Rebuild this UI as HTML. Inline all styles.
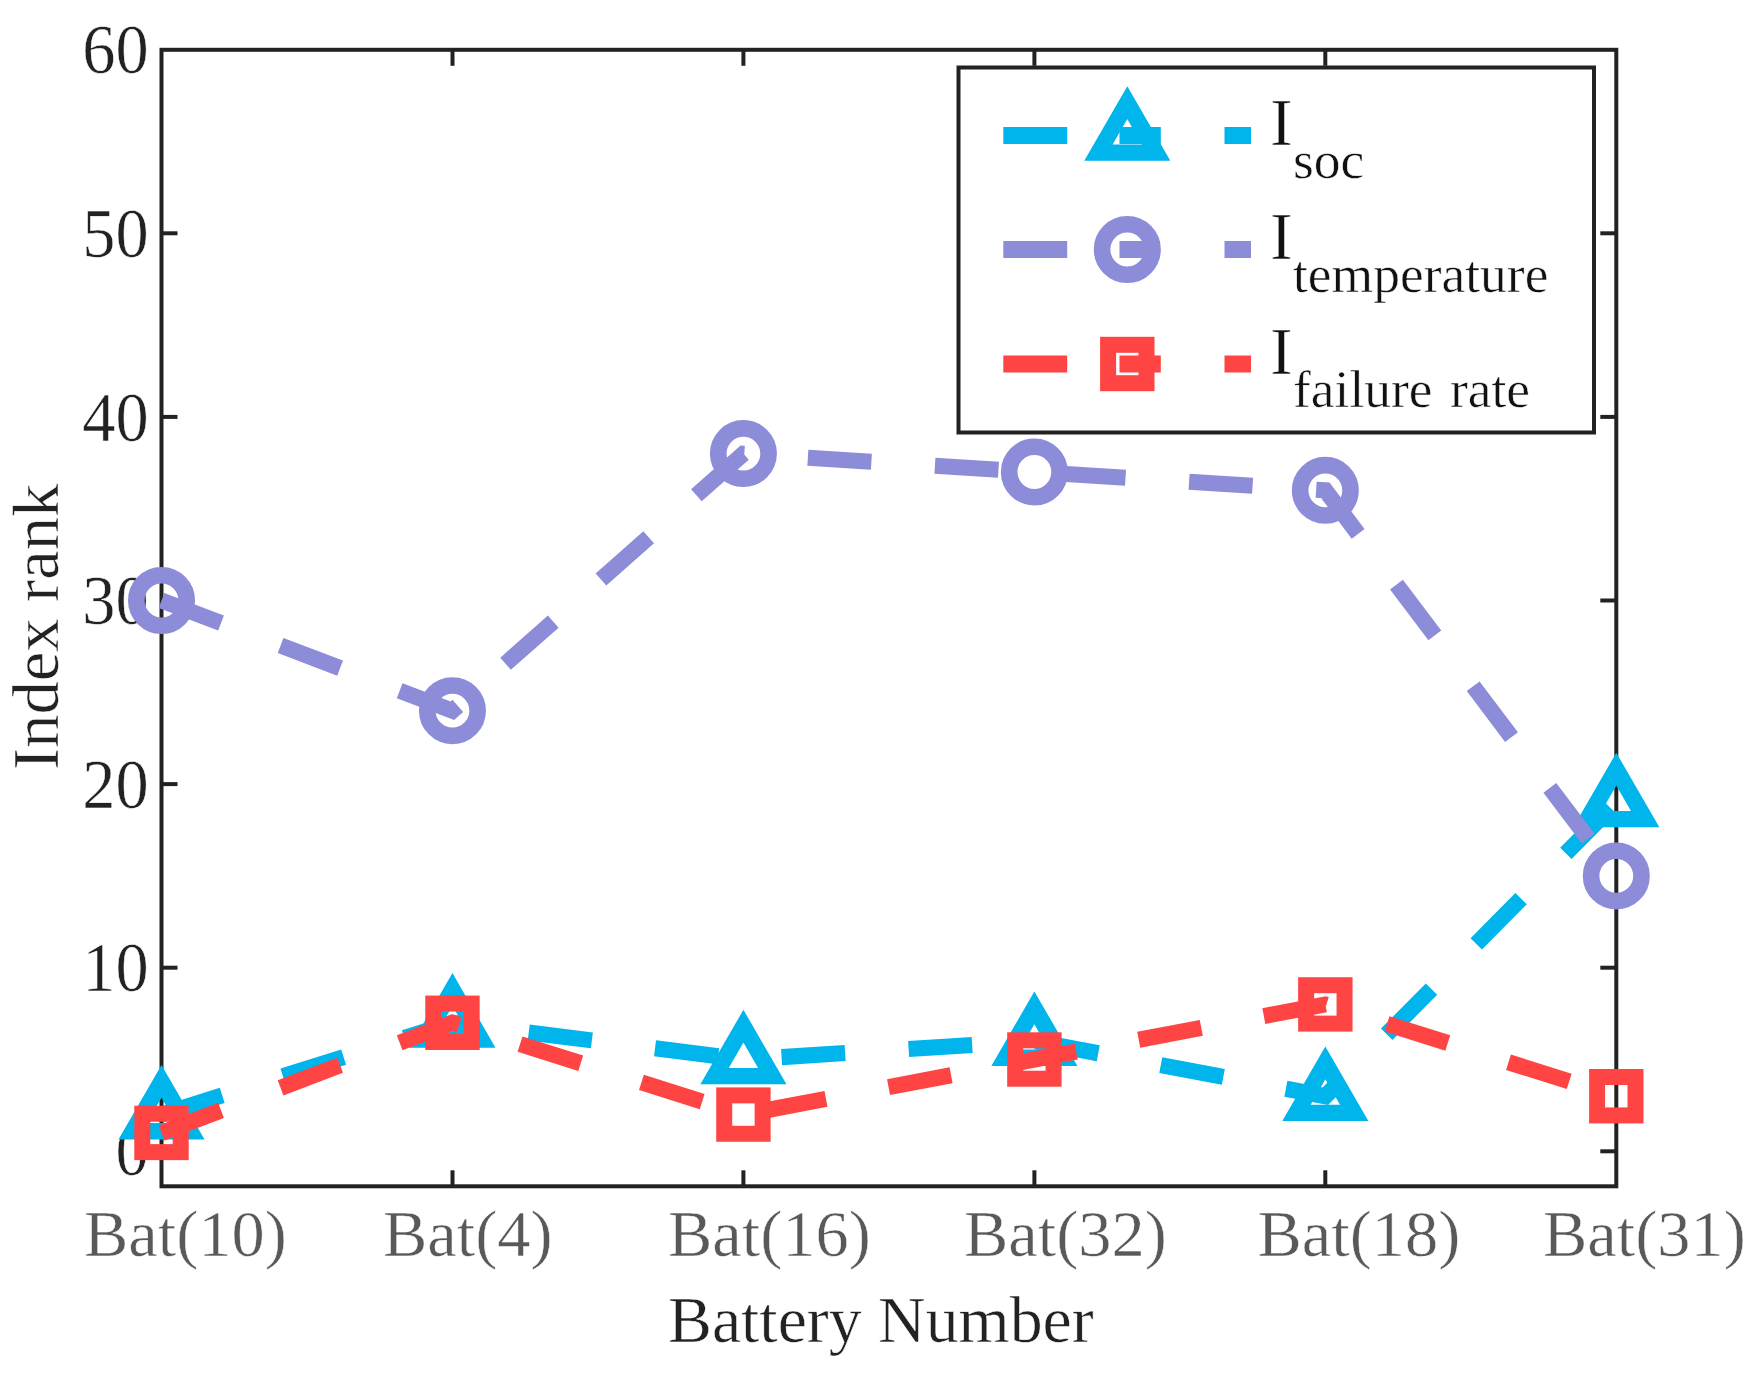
<!DOCTYPE html>
<html lang="en"><head><meta charset="utf-8"><title>Index rank by Battery Number</title>
<style>html,body{margin:0;padding:0;background:#fff}body{width:1763px;height:1374px;overflow:hidden}svg{display:block}text{font-family:"Liberation Serif","Times New Roman",serif;stroke:#fff;stroke-width:0.5px;stroke-linejoin:round}</style></head><body>
<svg width="1763" height="1374" viewBox="0 0 1763 1374">
<rect width="1763" height="1374" fill="#fff"/>
<g stroke="#222" stroke-width="4" fill="none" stroke-linecap="butt">
<rect x="161.5" y="49.8" width="1454.8" height="1136.5"/>
<line x1="452.5" y1="1186.3" x2="452.5" y2="1170.3"/>
<line x1="452.5" y1="49.8" x2="452.5" y2="65.8"/>
<line x1="743.4" y1="1186.3" x2="743.4" y2="1170.3"/>
<line x1="743.4" y1="49.8" x2="743.4" y2="65.8"/>
<line x1="1034.4" y1="1186.3" x2="1034.4" y2="1170.3"/>
<line x1="1034.4" y1="49.8" x2="1034.4" y2="65.8"/>
<line x1="1325.3" y1="1186.3" x2="1325.3" y2="1170.3"/>
<line x1="1325.3" y1="49.8" x2="1325.3" y2="65.8"/>
<line x1="161.5" y1="1151.3" x2="177.5" y2="1151.3"/>
<line x1="1616.3" y1="1151.3" x2="1600.3" y2="1151.3"/>
<line x1="161.5" y1="967.7" x2="177.5" y2="967.7"/>
<line x1="1616.3" y1="967.7" x2="1600.3" y2="967.7"/>
<line x1="161.5" y1="784.1" x2="177.5" y2="784.1"/>
<line x1="1616.3" y1="784.1" x2="1600.3" y2="784.1"/>
<line x1="161.5" y1="600.5" x2="177.5" y2="600.5"/>
<line x1="1616.3" y1="600.5" x2="1600.3" y2="600.5"/>
<line x1="161.5" y1="416.9" x2="177.5" y2="416.9"/>
<line x1="1616.3" y1="416.9" x2="1600.3" y2="416.9"/>
<line x1="161.5" y1="233.3" x2="177.5" y2="233.3"/>
<line x1="1616.3" y1="233.3" x2="1600.3" y2="233.3"/>
</g>
<g font-size="69.5" fill="#222" text-anchor="end">
<text transform="translate(148.6,1174.9) scale(0.955,1)">0</text>
<text transform="translate(148.6,991.3) scale(0.955,1)">10</text>
<text transform="translate(148.6,807.7) scale(0.955,1)">20</text>
<text transform="translate(148.6,624.1) scale(0.955,1)">30</text>
<text transform="translate(148.6,440.5) scale(0.955,1)">40</text>
<text transform="translate(148.6,256.9) scale(0.955,1)">50</text>
<text transform="translate(148.6,73.3) scale(0.955,1)">60</text>
</g>
<g font-size="66.4" fill="#595959">
<text x="84.0" y="1256.3">Bat(10)</text>
<text x="383.0" y="1256.3">Bat(4)</text>
<text x="668.0" y="1256.3">Bat(16)</text>
<text x="964.0" y="1256.3">Bat(32)</text>
<text x="1257.5" y="1256.3">Bat(18)</text>
<text x="1543.0" y="1256.3">Bat(31)</text>
</g>
<text x="668" y="1342" font-size="65.8" fill="#222">Battery Number</text>
<text transform="translate(57.6,770) rotate(-90)" font-size="66.5" fill="#222">Index rank</text>
<path d="M161.50 1114.58 L452.46 1022.78 L743.42 1059.50 L1034.38 1041.14 L1325.34 1096.22 L1616.30 802.46" fill="none" stroke="#00b4ec" stroke-width="16.1" stroke-dasharray="63.66 63.66" stroke-linejoin="miter"/>
<polygon points="161.50,1081.28 190.34,1131.23 132.66,1131.23" fill="none" stroke="#00b4ec" stroke-width="16.4" stroke-linejoin="miter" stroke-miterlimit="10"/>
<polygon points="452.46,989.48 481.30,1039.43 423.62,1039.43" fill="none" stroke="#00b4ec" stroke-width="16.4" stroke-linejoin="miter" stroke-miterlimit="10"/>
<polygon points="743.42,1026.20 772.26,1076.15 714.58,1076.15" fill="none" stroke="#00b4ec" stroke-width="16.4" stroke-linejoin="miter" stroke-miterlimit="10"/>
<polygon points="1034.38,1007.84 1063.22,1057.79 1005.54,1057.79" fill="none" stroke="#00b4ec" stroke-width="16.4" stroke-linejoin="miter" stroke-miterlimit="10"/>
<polygon points="1325.34,1062.92 1354.18,1112.87 1296.50,1112.87" fill="none" stroke="#00b4ec" stroke-width="16.4" stroke-linejoin="miter" stroke-miterlimit="10"/>
<polygon points="1616.30,769.16 1645.14,819.11 1587.46,819.11" fill="none" stroke="#00b4ec" stroke-width="16.4" stroke-linejoin="miter" stroke-miterlimit="10"/>
<path d="M161.50 600.50 L452.46 710.66 L743.42 453.62 L1034.38 471.98 L1325.34 490.34 L1616.30 875.90" fill="none" stroke="#8c8cd8" stroke-width="16.1" stroke-dasharray="63.66 63.66" stroke-linejoin="miter"/>
<circle cx="161.50" cy="600.50" r="25.2" fill="none" stroke="#8c8cd8" stroke-width="16.6"/>
<circle cx="452.46" cy="710.66" r="25.2" fill="none" stroke="#8c8cd8" stroke-width="16.6"/>
<circle cx="743.42" cy="453.62" r="25.2" fill="none" stroke="#8c8cd8" stroke-width="16.6"/>
<circle cx="1034.38" cy="471.98" r="25.2" fill="none" stroke="#8c8cd8" stroke-width="16.6"/>
<circle cx="1325.34" cy="490.34" r="25.2" fill="none" stroke="#8c8cd8" stroke-width="16.6"/>
<circle cx="1616.30" cy="875.90" r="25.2" fill="none" stroke="#8c8cd8" stroke-width="16.6"/>
<path d="M161.50 1132.94 L452.46 1022.78 L743.42 1114.58 L1034.38 1059.50 L1325.34 1004.42 L1616.30 1096.22" fill="none" stroke="#ff4444" stroke-width="16.1" stroke-dasharray="63.66 63.66" stroke-linejoin="miter"/>
<rect x="142.30" y="1113.74" width="38.4" height="38.4" fill="none" stroke="#ff4444" stroke-width="16"/>
<rect x="433.26" y="1003.58" width="38.4" height="38.4" fill="none" stroke="#ff4444" stroke-width="16"/>
<rect x="724.22" y="1095.38" width="38.4" height="38.4" fill="none" stroke="#ff4444" stroke-width="16"/>
<rect x="1015.18" y="1040.30" width="38.4" height="38.4" fill="none" stroke="#ff4444" stroke-width="16"/>
<rect x="1306.14" y="985.22" width="38.4" height="38.4" fill="none" stroke="#ff4444" stroke-width="16"/>
<rect x="1597.10" y="1077.02" width="38.4" height="38.4" fill="none" stroke="#ff4444" stroke-width="16"/>
<rect x="958.5" y="67.5" width="635.5" height="365" fill="#fff" stroke="#222" stroke-width="4"/>
<line x1="1003.3" y1="135.5" x2="1067.2" y2="135.5" stroke="#00b4ec" stroke-width="17"/>
<line x1="1119.5" y1="135.5" x2="1160.8" y2="135.5" stroke="#00b4ec" stroke-width="17"/>
<line x1="1224.5" y1="135.5" x2="1251.0" y2="135.5" stroke="#00b4ec" stroke-width="17"/>
<polygon points="1127.30,102.70 1156.14,152.65 1098.46,152.65" fill="none" stroke="#00b4ec" stroke-width="16.4" stroke-linejoin="miter" stroke-miterlimit="10"/>
<text x="1270" y="145.3" font-size="68" fill="#111" word-spacing="4">I<tspan font-size="53.5" dx="0.3" dy="32.8">soc</tspan></text>
<line x1="1003.3" y1="249.5" x2="1067.2" y2="249.5" stroke="#8c8cd8" stroke-width="17"/>
<line x1="1119.5" y1="249.5" x2="1160.0" y2="249.5" stroke="#8c8cd8" stroke-width="17"/>
<line x1="1224.5" y1="249.5" x2="1251.0" y2="249.5" stroke="#8c8cd8" stroke-width="17"/>
<circle cx="1127.30" cy="249.50" r="25.2" fill="none" stroke="#8c8cd8" stroke-width="16.6"/>
<text x="1270" y="259.3" font-size="68" fill="#111" word-spacing="4">I<tspan font-size="53.5" dx="0.3" dy="32.8">temperature</tspan></text>
<line x1="1003.3" y1="364.0" x2="1067.2" y2="364.0" stroke="#ff4444" stroke-width="17"/>
<line x1="1119.5" y1="364.0" x2="1160.8" y2="364.0" stroke="#ff4444" stroke-width="17"/>
<line x1="1224.5" y1="364.0" x2="1251.0" y2="364.0" stroke="#ff4444" stroke-width="17"/>
<rect x="1108.10" y="344.80" width="38.4" height="38.4" fill="none" stroke="#ff4444" stroke-width="16"/>
<text x="1270" y="373.8" font-size="68" fill="#111" word-spacing="4">I<tspan font-size="53.5" dx="0.3" dy="32.8">failure rate</tspan></text>
</svg></body></html>
